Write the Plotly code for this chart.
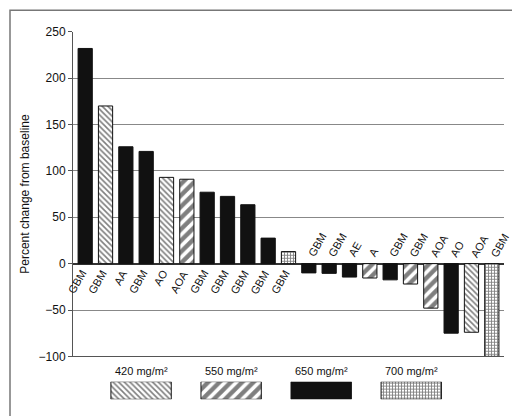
import plotly.graph_objects as go

labels = ["GBM","GBM","AA","GBM","AO","AOA","GBM","GBM","GBM","GBM","GBM",
          "GBM","GBM","AE","A","GBM","GBM","AOA","AO","AOA","GBM"]
values = [232,170,126,121,93,91,77,72.5,63.5,27.5,13,
          -10,-10.5,-14.5,-15.5,-17.5,-22,-48,-75,-74,-100]
doses = [650,420,650,650,420,550,650,650,650,650,700,
         650,650,650,550,650,550,550,650,420,700]
dose_names = ["420 mg/m²","550 mg/m²","650 mg/m²","700 mg/m²"]
dose_keys = [420,550,650,700]

style = {420: dict(color="white", shape="\\", size=4, solidity=0.4),
         550: dict(color="white", shape="/", size=8, solidity=0.55),
         650: dict(color="#111", shape="", size=6, solidity=0.5),
         700: dict(color="white", shape="+", size=3, solidity=0.5)}

def mk(d):
    s = style[d]
    return dict(color=s["color"], line=dict(color="#111", width=1),
                pattern=dict(shape=s["shape"], fgcolor="#000", bgcolor="white",
                             size=s["size"], solidity=s["solidity"]))

fig = go.Figure()
xs = list(range(len(values)))
for d in dose_keys:
    idx = [i for i in xs if doses[i] == d]
    fig.add_trace(go.Bar(x=idx, y=[values[i] for i in idx], marker=mk(d),
                         width=0.7, showlegend=False, xaxis="x", yaxis="y"))
for j, d in enumerate(dose_keys):
    fig.add_trace(go.Bar(x=[j], y=[1], marker=mk(d), width=0.67,
                         showlegend=False, xaxis="x2", yaxis="y2"))

ann = []
for i, (l, v) in enumerate(zip(labels, values)):
    ann.append(dict(x=i, y=0, xref="x", yref="y", text=l, showarrow=False,
                    textangle=-60, font=dict(size=11, color="#111"),
                    yanchor="top" if v > 0 else "bottom",
                    xanchor="right" if v > 0 else "left",
                    xshift=6 if v > 0 else -6,
                    yshift=-2 if v > 0 else 2))
for j, n in enumerate(dose_names):
    ann.append(dict(x=(68 + j * 90) / 431, y=0.09, xref="paper", yref="paper",
                    text=n, showarrow=False, xanchor="center", yanchor="middle",
                    font=dict(size=11, color="#111")))

fig.update_layout(
    width=520, height=416, margin=dict(l=65, r=24, t=20, b=15),
    paper_bgcolor="white", plot_bgcolor="white", barmode="overlay",
    font=dict(family="Liberation Sans, Arial", color="#111"),
    xaxis=dict(domain=[0, 1], range=[-0.6, len(values) - 0.4], showticklabels=False,
               ticks="", showgrid=False, zeroline=False, showline=True,
               linecolor="#555", anchor="y"),
    yaxis=dict(domain=[0.129, 0.99], range=[-100, 250], dtick=50, ticks="outside",
               ticklen=4, tickcolor="#555", showline=True, linecolor="#555",
               gridcolor="#888", zeroline=True, zerolinecolor="#333",
               tickfont=dict(size=12),
               title=dict(text="Percent change from baseline", font=dict(size=12), standoff=6)),
    xaxis2=dict(domain=[0, 1], range=[-0.756, 4.03], visible=False, anchor="y2"),
    yaxis2=dict(domain=[0.015, 0.062], range=[0, 1], visible=False),
    annotations=ann,
    shapes=[dict(type="rect", xref="paper", yref="paper",
                 x0=-63/431, x1=1+22/431, y0=-12/381, y1=1+18/381,
                 line=dict(color="#777", width=1.5))],
)
fig.write_html("out.html")
